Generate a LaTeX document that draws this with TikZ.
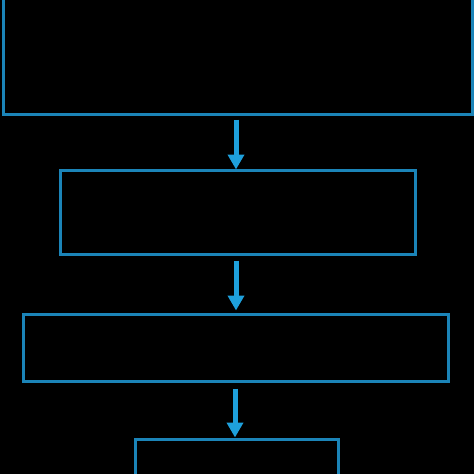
\documentclass[tikz,border=0pt]{standalone}
\usetikzlibrary{arrows.meta}
\definecolor{boxblue}{HTML}{1B84B8}
\definecolor{arrowblue}{HTML}{1EA0DC}
\begin{document}
\begin{tikzpicture}[x=1pt,y=-1pt,
  stepbox/.style={draw=boxblue,line width=3pt,rectangle,inner sep=0pt},
  flow/.style={draw=arrowblue,line width=5pt,-{Triangle[length=15pt,width=16pt]}}]
\useasboundingbox (0,0) rectangle (474,474);
\fill[black] (0,0) rectangle (474,474);
\clip (0,0) rectangle (474,474);
\node[stepbox,minimum width=469pt,minimum height=126pt] (b1) at (237.5,51) {};
\node[stepbox,minimum width=355pt,minimum height=84pt] (b2) at (237.5,212) {};
\node[stepbox,minimum width=425pt,minimum height=67pt] (b3) at (235.5,347.5) {};
\node[stepbox,minimum width=203pt,minimum height=60pt] (b4) at (236.5,469) {};
\draw[flow] ([yshift=-4pt,xshift=-1.5pt]b1.south) -- ([xshift=-1.5pt,yshift=-1pt]b2.north);
\draw[flow] ([yshift=-5pt,xshift=-1.5pt]b2.south) -- ([xshift=0.5pt,yshift=2pt]b3.north);
\draw[flow] ([yshift=-6pt,xshift=-0.5pt]b3.south) -- ([xshift=-1.5pt,yshift=0pt]b4.north);
\end{tikzpicture}
\end{document}
